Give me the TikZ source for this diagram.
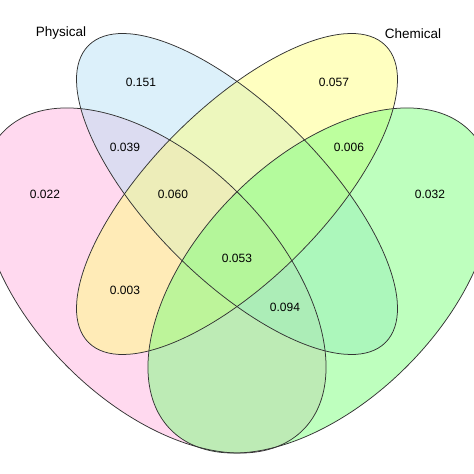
\documentclass[tikz,border=0pt]{standalone}
\usepackage{fontspec}
\setmainfont{Liberation Sans}
\definecolor{leftpink}{HTML}{FFB3DF}
\definecolor{physblue}{HTML}{B9E1F5}
\definecolor{chemyellow}{HTML}{FFFF81}
\definecolor{rightgreen}{HTML}{7DFF7D}
\begin{document}
\begin{tikzpicture}[x=1pt,y=1pt,
		rim/.style={draw=black!80,line width=.75pt},
		val/.style={font=\fontsize{12}{14}\selectfont,inner sep=1pt},
		setname/.style={font=\fontsize{13.5}{16}\selectfont,inner sep=1pt}]
		\useasboundingbox (0,0) rectangle (474,474);
		\clip (0,0) rectangle (474,474);
		% centres of the four ellipses
		\coordinate (cL) at (153.5,193.5);
		\coordinate (cR) at (320.5,193.5);
		\coordinate (cP) at (237,280);
		\coordinate (cC) at (237,280);
		% fills first, outlines on top
		\foreach \c/\ang/\ra/\rb/\col in {cL/-45/211.4/121.8/leftpink,cP/-45/210/86/physblue,cC/45/210/86/chemyellow,cR/45/211.4/121.8/rightgreen}
			\fill[\col,fill opacity=.5,rotate around={\ang:(\c)}] (\c) ellipse [x radius=\ra pt,y radius=\rb pt];
		\foreach \c/\ang/\ra/\rb in {cL/-45/211.4/121.8,cP/-45/210/86,cC/45/210/86,cR/45/211.4/121.8}
			\draw[rim,rotate around={\ang:(\c)}] (\c) ellipse [x radius=\ra pt,y radius=\rb pt];
		% set names
		\node[setname] (physical) at (61,441) {Physical};
		\node[setname] (chemical) at (413,440) {Chemical};
		% region values
		\node[val] (vP) at (141,392) {0.151};
		\node[val] (vC) at (334,392) {0.057};
		\node[val] (vLP) at (125,327) {0.039};
		\node[val] (vCR) at (349,327) {0.006};
		\node[val] (vL) at (45,280) {0.022};
		\node[val] (vLPC) at (173,280) {0.060};
		\node[val] (vR) at (430,280) {0.032};
		\node[val] (vAll) at (237,216) {0.053};
		\node[val] (vLC) at (125,184) {0.003};
		\node[val] (vLPR) at (285,167) {0.094};
	\end{tikzpicture}
\end{document}
